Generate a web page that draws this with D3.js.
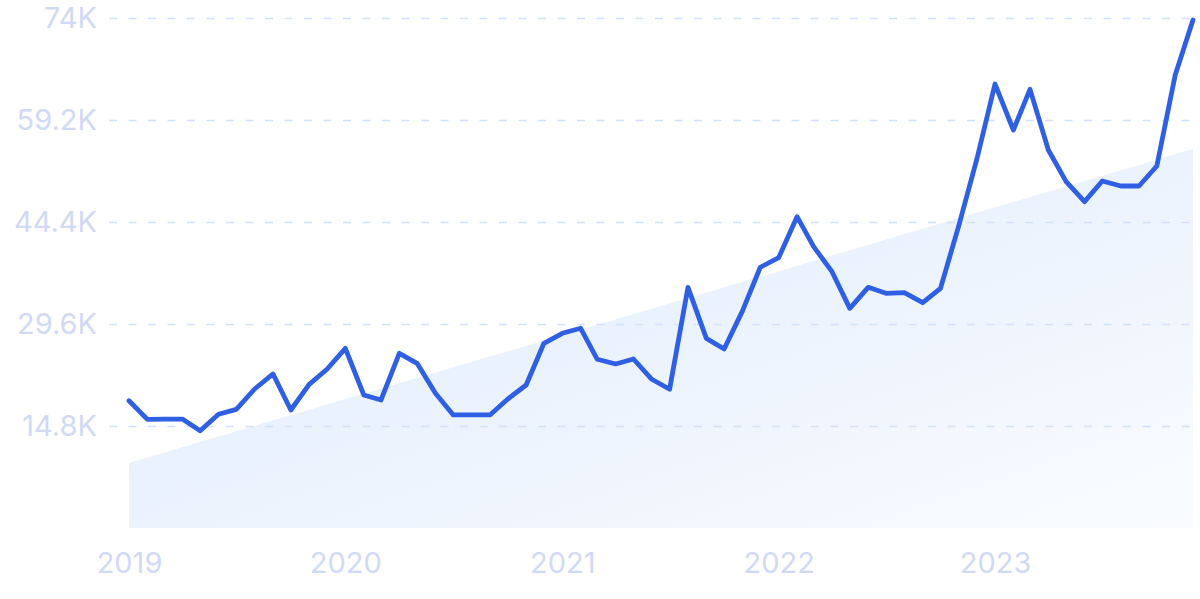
<!DOCTYPE html>
<html>
<head>
<meta charset="utf-8">
<script src="https://cdn.jsdelivr.net/npm/d3@7"></script>
<style>
  body { margin: 0; background: #fff; }
  svg { display: block; }
  svg text { font-family: Inter, "Noto Sans", sans-serif; }
</style>
</head>
<body>
<script>
// monthly values, Jan 2019 .. Dec 2023
var months = d3.timeMonths(new Date(2019, 0, 1), new Date(2024, 0, 1));
var values = [
  18470, 15770, 15800, 15800, 14120, 16500, 17220, 20170, 22350, 17120, 20850, 23030,
  26070, 19300, 18570, 25350, 23900, 19540, 16400, 16400, 16400, 18720, 20750, 26800,
  28250, 28980, 24480, 23800, 24520, 21580, 20130, 34920, 27520, 25970, 31500, 37830,
  39220, 45170, 40820, 37190, 31870, 34920, 34050, 34140, 32690, 34780, 43900, 53400,
  64420, 57750, 63650, 54850, 50250, 47350, 50350, 49620, 49620, 52530, 65730, 73710
];
// trend line (start, end)
var trend = [9430, 55000];
var yTicks = [14800, 29600, 44400, 59200, 74000];
var yearLabels = ["2019", "2020", "2021", "2022", "2023"];

var w = 1200, h = 599;

var svg = d3.select("body").append("svg")
    .attr("width", w)
    .attr("height", h);

var x = d3.scaleTime()
    .domain([months[0], months[months.length - 1]])
    .range([129, 1193]);
var y = d3.scaleLinear()
    .domain([0, 74000])
    .range([528, 18]);

var defs = svg.append("defs");
var grad = defs.append("linearGradient")
    .attr("id", "trendFill")
    .attr("x1", "0").attr("y1", "0")
    .attr("x2", "1").attr("y2", "1");
grad.append("stop").attr("offset", "0").attr("stop-color", "#dce9fb");
grad.append("stop").attr("offset", "1").attr("stop-color", "#fafcff");

// trend area
var trendData = [
  { d: months[0], v: trend[0] },
  { d: months[months.length - 1], v: trend[1] }
];
svg.append("path")
    .datum(trendData)
    .attr("fill", "url(#trendFill)")
    .attr("d", d3.area()
        .x(function (d) { return x(d.d); })
        .y0(y(0))
        .y1(function (d) { return y(d.v); }));

// gridlines + y labels
var yAxis = d3.axisLeft(y)
    .tickValues(yTicks)
    .tickSize(-(1190 - 109))
    .tickPadding(12)
    .tickFormat(function (d) { return d3.format(".3~s")(d).replace("k", "K"); });

var gy = svg.append("g")
    .attr("transform", "translate(109,0)")
    .call(yAxis)
    .attr("font-family", null);
gy.select(".domain").remove();
gy.selectAll(".tick line")
    .attr("stroke", "#d3e2fb")
    .attr("stroke-width", 1.5)
    .attr("stroke-dasharray", "8,11.5");
gy.selectAll(".tick text")
    .attr("fill", "#d0daf5")
    .attr("font-size", "29px")
    .attr("x", -12);

// x labels
var xAxis = d3.axisBottom(x)
    .tickValues(yearLabels.map(function (yr) { return new Date(+yr, 0, 1); }))
    .tickSize(0)
    .tickPadding(0)
    .tickFormat(function (d, i) { return yearLabels[i]; });

var gx = svg.append("g")
    .attr("transform", "translate(0,552)")
    .call(xAxis)
    .attr("font-family", null);
gx.select(".domain").remove();
gx.selectAll(".tick text")
    .attr("fill", "#d0daf5")
    .attr("font-size", "29px");

// line
svg.append("path")
    .datum(values)
    .attr("fill", "none")
    .attr("stroke", "#2f5fe3")
    .attr("stroke-width", 4.8)
    .attr("stroke-linejoin", "round")
    .attr("stroke-linecap", "round")
    .attr("d", d3.line()
        .x(function (d, i) { return x(months[i]); })
        .y(function (d) { return y(d); }));
</script>
</body>
</html>
